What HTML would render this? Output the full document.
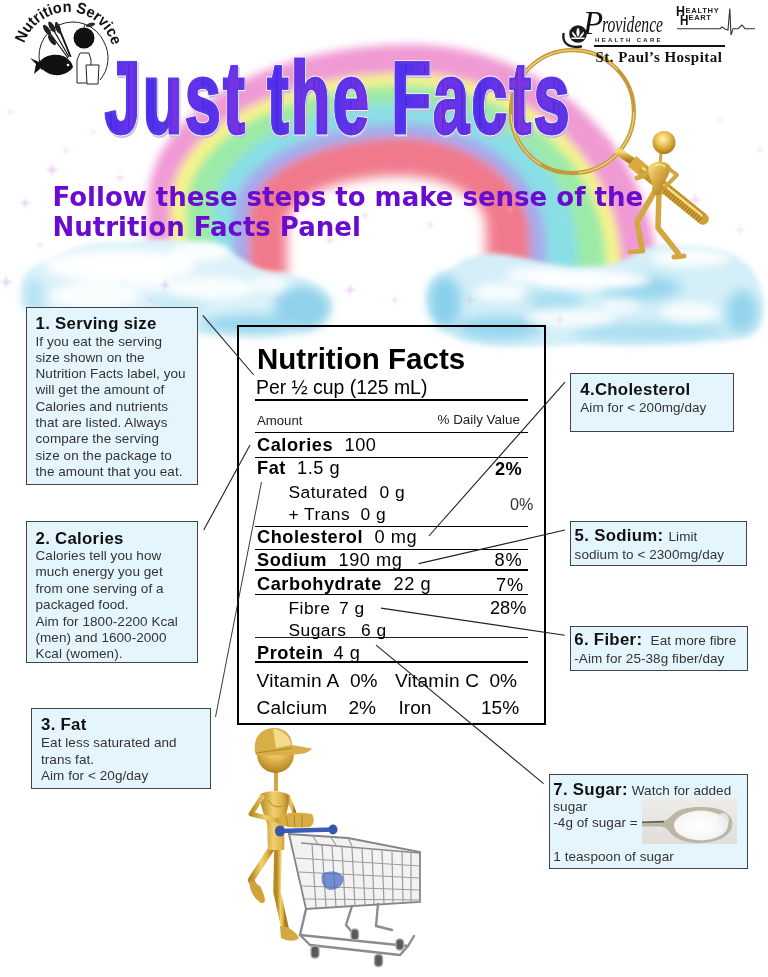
<!DOCTYPE html>
<html><head><meta charset="utf-8"><title>Just the Facts</title>
<style>
*{margin:0;padding:0;box-sizing:content-box}
html,body{width:768px;height:977px;overflow:hidden;background:#fff}
body{position:relative}
.abs{position:absolute}
.t{position:absolute;white-space:pre;line-height:1}
.box{background:#e5f5fd;border:1px solid #404448}
.title,.title-sh,.title-ol{z-index:5;left:0;top:0;font-family:'Liberation Sans',sans-serif;font-weight:bold;font-size:102px;letter-spacing:3.4px;line-height:1;white-space:pre;transform-origin:0 0;}
.title{transform:translate(104.5px,47px) scaleX(0.637);color:transparent;-webkit-background-clip:text;background-clip:text;-webkit-text-stroke:2.6px #5a36e6;
 background-image:repeating-linear-gradient(90deg,rgba(40,20,170,0) 0,rgba(40,20,170,0) 9px,rgba(40,20,170,0.45) 9px,rgba(40,20,170,0.45) 10.5px,rgba(40,20,170,0) 10.5px,rgba(40,20,170,0) 17px,rgba(60,30,200,0.3) 17px,rgba(60,30,200,0.3) 18.5px,rgba(40,20,170,0) 18.5px,rgba(40,20,170,0) 29px),linear-gradient(90deg,#4632ee 0,#6a34ea 6%,#4a30f0 10%,#7e32e4 16%,#5030ee 22%,#8034e0 30%,#4c30ee 36%,#7a34e2 44%,#5434ec 50%,#8434e0 58%,#4a32ee 64%,#7c34e4 72%,#5030ee 80%,#8236e0 88%,#5a32ea 100%);}
.title-sh{transform:translate(105.7px,48.5px) scaleX(0.637);color:#c0bcd4;-webkit-text-stroke:4px #c0bcd4;}
.title-ol{transform:translate(104.5px,47px) scaleX(0.637);color:#f4f0ff;-webkit-text-stroke:4.8px #f4f0ff;}
</style></head>
<body>

<svg class="abs" style="left:0;top:0" width="768" height="400" viewBox="0 0 768 400">
 <defs>
  <filter id="rb" x="-20%" y="-20%" width="140%" height="140%"><feGaussianBlur stdDeviation="4"/></filter>
  <filter id="rbin" x="-30%" y="-30%" width="160%" height="160%"><feGaussianBlur stdDeviation="6"/></filter>
  <filter id="rbglow" x="-20%" y="-20%" width="140%" height="140%"><feGaussianBlur stdDeviation="12"/></filter>
  <filter id="cl" x="-30%" y="-30%" width="160%" height="160%"><feGaussianBlur stdDeviation="4"/></filter>
  <filter id="cl2" x="-30%" y="-30%" width="160%" height="160%"><feGaussianBlur stdDeviation="2.5"/></filter>
  <filter id="cl3" x="-50%" y="-50%" width="200%" height="200%"><feGaussianBlur stdDeviation="6"/></filter>
  <filter id="cl4" x="-50%" y="-50%" width="200%" height="200%"><feGaussianBlur stdDeviation="4"/></filter>
  <linearGradient id="rbfade" x1="0" y1="0" x2="0" y2="1" gradientUnits="objectBoundingBox">
   <stop offset="0" stop-color="#fff"/><stop offset="0.67" stop-color="#fff"/><stop offset="0.72" stop-color="#000"/><stop offset="1" stop-color="#000"/>
  </linearGradient>
  <mask id="rbm" maskUnits="userSpaceOnUse" x="0" y="0" width="768" height="400"><rect x="0" y="0" width="768" height="400" fill="url(#rbfade)"/></mask>
 </defs>
 <g mask="url(#rbm)">
 <g filter="url(#rb)">
  <path d="M148.0,340 L148.0,201.6 A262.0,157.1 0 0 1 410.0,44.5 A247.0,233.5 0 0 1 657.0,278.0 L657.0,340 Z" fill="#f09ad4"/>
  <path d="M169.4,340 L169.4,205.2 A238.5,133.0 0 0 1 407.9,72.2 A214.2,195.1 0 0 1 622.1,267.3 L622.1,340 Z" fill="#f4cfb8"/>
  <path d="M172.2,340 L172.2,205.6 A235.5,131.3 0 0 1 407.7,74.3 A212.0,192.3 0 0 1 619.7,266.6 L619.7,340 Z" fill="#f6f488"/>
  <path d="M186.0,340 L186.0,207.9 A220.8,122.6 0 0 1 406.9,85.3 A199.3,177.1 0 0 1 606.2,262.4 L606.2,340 Z" fill="#9ceaa8"/>
  <path d="M214.0,340 L214.0,212.4 A191.4,108.9 0 0 1 405.4,103.4 A171.8,150.0 0 0 1 577.2,253.4 L577.2,340 Z" fill="#8adee6"/>
  <path d="M232.7,340 L232.7,215.4 A171.2,91.9 0 0 1 403.9,123.5 A142.1,120.2 0 0 1 546.0,243.7 L546.0,340 Z" fill="#a6aaec"/>
  <path d="M249.0,340 L249.0,218.1 A153.8,80.3 0 0 1 402.8,137.7 A127.0,101.0 0 0 1 529.8,238.7 L529.8,340 Z" fill="#f07a8c"/>
 </g>
 <g filter="url(#rbin)">
  <path d="M287.0,340 L287.0,224.0 A113.0,48.0 0 0 1 400.0,176.0 A86.0,50.0 0 0 1 486.0,226.0 L486.0,340 Z" fill="#ffffff"/>
 </g>
 </g>
 <g filter="url(#cl2)">
  <path fill="#dcf2f9" d="M22,290 C20,276 28,266 44,262 C56,258 64,250 80,247 C94,242 112,242 126,243 C146,238 170,238 190,242 C208,240 222,244 232,252 C244,262 258,270 276,273 C300,274 320,284 330,298 C334,312 326,326 306,332 C280,338 250,336 220,334 C180,336 120,336 80,332 C50,330 28,318 22,302 Z"/>
  <path fill="#d4eff8" d="M427,300 C424,284 436,272 452,268 C462,258 482,252 500,254 C520,256 536,262 560,266 C590,270 616,266 634,254 C650,244 668,243 680,246 C712,244 742,254 752,270 C764,286 766,308 760,324 C754,338 734,342 710,340 C670,346 620,346 580,344 C540,348 500,348 470,342 C444,338 429,318 427,300 Z"/>
 </g>
 <g filter="url(#cl3)">
  <ellipse cx="302" cy="308" rx="28" ry="22" fill="#8fd2ea"/>
  <ellipse cx="250" cy="324" rx="50" ry="10" fill="#9ad6ee"/>
  <ellipse cx="34" cy="296" rx="10" ry="18" fill="#b4e2f2"/>
  <ellipse cx="110" cy="324" rx="60" ry="8" fill="#bde6f4"/>
  <ellipse cx="180" cy="304" rx="30" ry="9" fill="#c6eaf6"/>
  <ellipse cx="445" cy="302" rx="16" ry="26" fill="#88d0ea"/>
  <ellipse cx="500" cy="328" rx="44" ry="12" fill="#96d6ee"/>
  <ellipse cx="640" cy="288" rx="42" ry="12" fill="#96d6ee"/>
  <ellipse cx="742" cy="312" rx="16" ry="22" fill="#94d4ec"/>
  <ellipse cx="650" cy="332" rx="80" ry="8" fill="#a4dcf0"/>
  <ellipse cx="555" cy="300" rx="28" ry="12" fill="#acdff2"/>
 </g>
 <g filter="url(#cl4)" fill="#ffffff">
  <ellipse cx="120" cy="266" rx="75" ry="16" opacity="0.95"/>
  <ellipse cx="200" cy="252" rx="30" ry="9" opacity="0.9"/>
  <ellipse cx="210" cy="288" rx="45" ry="11" opacity="0.85"/>
  <ellipse cx="95" cy="296" rx="45" ry="14" opacity="0.85"/>
  <ellipse cx="150" cy="282" rx="20" ry="8" opacity="0.8"/>
  <ellipse cx="270" cy="284" rx="18" ry="8" opacity="0.7"/>
  <ellipse cx="590" cy="280" rx="60" ry="10" opacity="0.95"/>
  <ellipse cx="690" cy="258" rx="40" ry="9" opacity="0.9"/>
  <ellipse cx="540" cy="275" rx="35" ry="8" opacity="0.85"/>
  <ellipse cx="570" cy="318" rx="45" ry="9" opacity="0.8"/>
  <ellipse cx="690" cy="312" rx="30" ry="10" opacity="0.8"/>
  <ellipse cx="500" cy="292" rx="26" ry="9" opacity="0.8"/>
  <ellipse cx="620" cy="306" rx="20" ry="7" opacity="0.7"/>
 </g>
</svg>
<svg class="abs" style="left:0;top:0" width="768" height="340" viewBox="0 0 768 340"><defs><filter id="spb"><feGaussianBlur stdDeviation="0.8"/></filter></defs><g filter="url(#spb)"><path d="M52,163 L53.54,168.46 L59,170 L53.54,171.54 L52,177 L50.46,171.54 L45,170 L50.46,168.46 Z" fill="#e0a8e0" opacity="0.55"/><path d="M25,197 L26.32,201.68 L31,203 L26.32,204.32 L25,209 L23.68,204.32 L19,203 L23.68,201.68 Z" fill="#c8b0ec" opacity="0.5"/><path d="M6,275 L7.54,280.46 L13,282 L7.54,283.54 L6,289 L4.46,283.54 L-1,282 L4.46,280.46 Z" fill="#c8b0ec" opacity="0.5"/><path d="M66,146 L67.1,149.9 L71,151 L67.1,152.1 L66,156 L64.9,152.1 L61,151 L64.9,149.9 Z" fill="#e8b8e8" opacity="0.4"/><path d="M93,128 L93.88,131.12 L97,132 L93.88,132.88 L93,136 L92.12,132.88 L89,132 L92.12,131.12 Z" fill="#d8c0f0" opacity="0.4"/><path d="M10,107 L11.1,110.9 L15,112 L11.1,113.1 L10,117 L8.9,113.1 L5,112 L8.9,110.9 Z" fill="#e0c0ec" opacity="0.35"/><path d="M120,173 L121.1,176.9 L125,178 L121.1,179.1 L120,183 L118.9,179.1 L115,178 L118.9,176.9 Z" fill="#e8b0e0" opacity="0.45"/><path d="M165,279 L166.32,283.68 L171,285 L166.32,286.32 L165,291 L163.68,286.32 L159,285 L163.68,283.68 Z" fill="#d0b0ec" opacity="0.5"/><path d="M305,189 L306.32,193.68 L311,195 L306.32,196.32 L305,201 L303.68,196.32 L299,195 L303.68,193.68 Z" fill="#e6b0e6" opacity="0.5"/><path d="M350,283 L351.54,288.46 L357,290 L351.54,291.54 L350,297 L348.46,291.54 L343,290 L348.46,288.46 Z" fill="#d8b0ee" opacity="0.45"/><path d="M330,234 L331.32,238.68 L336,240 L331.32,241.32 L330,246 L328.68,241.32 L324,240 L328.68,238.68 Z" fill="#e4b4e8" opacity="0.45"/><path d="M430,220 L431.1,223.9 L435,225 L431.1,226.1 L430,230 L428.9,226.1 L425,225 L428.9,223.9 Z" fill="#e0b0e8" opacity="0.4"/><path d="M470,294 L471.32,298.68 L476,300 L471.32,301.32 L470,306 L468.68,301.32 L464,300 L468.68,298.68 Z" fill="#d8b0ee" opacity="0.45"/><path d="M510,205 L511.1,208.9 L515,210 L511.1,211.1 L510,215 L508.9,211.1 L505,210 L508.9,208.9 Z" fill="#e8b8e8" opacity="0.4"/><path d="M605,135 L606.76,141.24 L613,143 L606.76,144.76 L605,151 L603.24,144.76 L597,143 L603.24,141.24 Z" fill="#f0a0d0" opacity="0.55"/><path d="M695,193 L696.54,198.46 L702,200 L696.54,201.54 L695,207 L693.46,201.54 L688,200 L693.46,198.46 Z" fill="#f0b0d8" opacity="0.45"/><path d="M740,224 L741.32,228.68 L746,230 L741.32,231.32 L740,236 L738.68,231.32 L734,230 L738.68,228.68 Z" fill="#e0c0ee" opacity="0.4"/><path d="M760,145 L761.1,148.9 L765,150 L761.1,151.1 L760,155 L758.9,151.1 L755,150 L758.9,148.9 Z" fill="#e0c0ee" opacity="0.35"/><path d="M720,115 L721.1,118.9 L725,120 L721.1,121.1 L720,125 L718.9,121.1 L715,120 L718.9,118.9 Z" fill="#e8c0e8" opacity="0.35"/><path d="M40,240 L41.1,243.9 L45,245 L41.1,246.1 L40,250 L38.9,246.1 L35,245 L38.9,243.9 Z" fill="#d8b8ee" opacity="0.4"/><path d="M395,295 L396.1,298.9 L400,300 L396.1,301.1 L395,305 L393.9,301.1 L390,300 L393.9,298.9 Z" fill="#e0b0e8" opacity="0.4"/><path d="M280,295 L281.1,298.9 L285,300 L281.1,301.1 L280,305 L278.9,301.1 L275,300 L278.9,298.9 Z" fill="#e0b0e8" opacity="0.4"/><path d="M150,296 L150.88,299.12 L154,300 L150.88,300.88 L150,304 L149.12,300.88 L146,300 L149.12,299.12 Z" fill="#d8b8ee" opacity="0.4"/><path d="M560,315 L561.1,318.9 L565,320 L561.1,321.1 L560,325 L558.9,321.1 L555,320 L558.9,318.9 Z" fill="#e0b0e8" opacity="0.4"/><path d="M365,210 L366.1,213.9 L370,215 L366.1,216.1 L365,220 L363.9,216.1 L360,215 L363.9,213.9 Z" fill="#e8b0e0" opacity="0.45"/></g></svg>
<div class="abs title-sh">Just the Facts</div><div class="abs title-ol">Just the Facts</div><div class="abs title">Just the Facts</div>
<div class="t" style="left:52.5px;top:184.0px;font-size:26px;font-weight:bold;color:#6a0cd0;letter-spacing:0px;font-family:'DejaVu Sans', sans-serif;">Follow these steps to make sense of the</div>
<div class="t" style="left:52.5px;top:214.0px;font-size:26px;font-weight:bold;color:#6a0cd0;letter-spacing:0px;font-family:'DejaVu Sans', sans-serif;">Nutrition Facts Panel</div>
<div class="abs" style="left:237px;top:325px;width:305px;height:396px;border:2px solid #000"></div>
<div class="abs" style="left:255px;top:398.5px;width:273px;height:2.2px;background:#000"></div>
<div class="abs" style="left:255px;top:431.5px;width:273px;height:1.3px;background:#000"></div>
<div class="abs" style="left:255px;top:456.5px;width:273px;height:1.3px;background:#000"></div>
<div class="abs" style="left:255px;top:526px;width:273px;height:1.3px;background:#000"></div>
<div class="abs" style="left:255px;top:549px;width:273px;height:1.3px;background:#000"></div>
<div class="abs" style="left:255px;top:569.3px;width:273px;height:1.3px;background:#000"></div>
<div class="abs" style="left:255px;top:593.5px;width:273px;height:1.3px;background:#000"></div>
<div class="abs" style="left:255px;top:637.2px;width:273px;height:1.3px;background:#222"></div>
<div class="abs" style="left:255px;top:660.5px;width:273px;height:2.4px;background:#000"></div>
<div class="t" style="left:257.0px;top:344.0px;font-size:29.5px;font-weight:bold;color:#000;letter-spacing:0px;font-family:'Liberation Sans', sans-serif;">Nutrition Facts</div>
<div class="t" style="left:256.0px;top:378.0px;font-size:19.4px;font-weight:normal;color:#000;letter-spacing:0px;font-family:'Liberation Sans', sans-serif;">Per ½ cup (125 mL)</div>
<div class="t" style="left:257.0px;top:414.0px;font-size:13.2px;font-weight:normal;color:#222;letter-spacing:0px;font-family:'Liberation Sans', sans-serif;">Amount</div>
<div class="t" style="left:437.5px;top:413.0px;font-size:13.4px;font-weight:normal;color:#222;letter-spacing:0px;font-family:'Liberation Sans', sans-serif;">% Daily Value</div>
<div class="t" style="left:257.0px;top:436.0px;font-size:18.2px;font-weight:bold;color:#000;letter-spacing:0.55px;font-family:'Liberation Sans', sans-serif;">Calories</div>
<div class="t" style="left:344.5px;top:436.0px;font-size:18.2px;font-weight:normal;color:#000;letter-spacing:0.55px;font-family:'Liberation Sans', sans-serif;">100</div>
<div class="t" style="left:257.0px;top:459.0px;font-size:18.2px;font-weight:bold;color:#000;letter-spacing:0.55px;font-family:'Liberation Sans', sans-serif;">Fat</div>
<div class="t" style="left:297.0px;top:459.0px;font-size:18.2px;font-weight:normal;color:#000;letter-spacing:0.55px;font-family:'Liberation Sans', sans-serif;">1.5 g</div>
<div class="t" style="left:495.0px;top:460.0px;font-size:18.2px;font-weight:bold;color:#000;letter-spacing:0.5px;font-family:'Liberation Sans', sans-serif;">2%</div>
<div class="t" style="left:288.5px;top:484.0px;font-size:17.4px;font-weight:normal;color:#000;letter-spacing:0.45px;font-family:'Liberation Sans', sans-serif;">Saturated</div>
<div class="t" style="left:379.5px;top:484.0px;font-size:17.4px;font-weight:normal;color:#000;letter-spacing:0.45px;font-family:'Liberation Sans', sans-serif;">0 g</div>
<div class="t" style="left:288.5px;top:506.0px;font-size:17.4px;font-weight:normal;color:#000;letter-spacing:0.45px;font-family:'Liberation Sans', sans-serif;">+ Trans</div>
<div class="t" style="left:360.5px;top:506.0px;font-size:17.4px;font-weight:normal;color:#000;letter-spacing:0.45px;font-family:'Liberation Sans', sans-serif;">0 g</div>
<div class="t" style="left:510.0px;top:496.0px;font-size:16.2px;font-weight:normal;color:#333;letter-spacing:0px;font-family:'Liberation Sans', sans-serif;">0%</div>
<div class="t" style="left:257.0px;top:528.0px;font-size:18.2px;font-weight:bold;color:#000;letter-spacing:0.55px;font-family:'Liberation Sans', sans-serif;">Cholesterol</div>
<div class="t" style="left:374.5px;top:528.0px;font-size:18.2px;font-weight:normal;color:#000;letter-spacing:0.55px;font-family:'Liberation Sans', sans-serif;">0 mg</div>
<div class="t" style="left:257.0px;top:551.0px;font-size:18.2px;font-weight:bold;color:#000;letter-spacing:0.55px;font-family:'Liberation Sans', sans-serif;">Sodium</div>
<div class="t" style="left:338.5px;top:551.0px;font-size:18.2px;font-weight:normal;color:#000;letter-spacing:0.55px;font-family:'Liberation Sans', sans-serif;">190 mg</div>
<div class="t" style="left:494.5px;top:551.0px;font-size:18.2px;font-weight:normal;color:#000;letter-spacing:0.8px;font-family:'Liberation Sans', sans-serif;">8%</div>
<div class="t" style="left:257.0px;top:575.0px;font-size:18.2px;font-weight:bold;color:#000;letter-spacing:0.55px;font-family:'Liberation Sans', sans-serif;">Carbohydrate</div>
<div class="t" style="left:393.5px;top:575.0px;font-size:18.2px;font-weight:normal;color:#000;letter-spacing:0.55px;font-family:'Liberation Sans', sans-serif;">22 g</div>
<div class="t" style="left:496.0px;top:576.0px;font-size:18.2px;font-weight:normal;color:#000;letter-spacing:0.8px;font-family:'Liberation Sans', sans-serif;">7%</div>
<div class="t" style="left:288.5px;top:600.0px;font-size:17.4px;font-weight:normal;color:#000;letter-spacing:0.45px;font-family:'Liberation Sans', sans-serif;">Fibre</div>
<div class="t" style="left:339.0px;top:600.0px;font-size:17.4px;font-weight:normal;color:#000;letter-spacing:0.45px;font-family:'Liberation Sans', sans-serif;">7 g</div>
<div class="t" style="left:490.0px;top:599.0px;font-size:18.2px;font-weight:normal;color:#000;letter-spacing:0px;font-family:'Liberation Sans', sans-serif;">28%</div>
<div class="t" style="left:288.5px;top:622.0px;font-size:17.4px;font-weight:normal;color:#000;letter-spacing:0.45px;font-family:'Liberation Sans', sans-serif;">Sugars</div>
<div class="t" style="left:361.0px;top:622.0px;font-size:17.4px;font-weight:normal;color:#000;letter-spacing:0.45px;font-family:'Liberation Sans', sans-serif;">6 g</div>
<div class="t" style="left:257.0px;top:644.0px;font-size:18.2px;font-weight:bold;color:#000;letter-spacing:0.55px;font-family:'Liberation Sans', sans-serif;">Protein</div>
<div class="t" style="left:333.5px;top:644.0px;font-size:18.2px;font-weight:normal;color:#000;letter-spacing:0.55px;font-family:'Liberation Sans', sans-serif;">4 g</div>
<div class="t" style="left:256.5px;top:671.0px;font-size:19.1px;font-weight:normal;color:#000;letter-spacing:0.3px;font-family:'Liberation Sans', sans-serif;">Vitamin A</div>
<div class="t" style="left:350.0px;top:671.0px;font-size:19.1px;font-weight:normal;color:#000;letter-spacing:0px;font-family:'Liberation Sans', sans-serif;">0%</div>
<div class="t" style="left:395.0px;top:671.0px;font-size:19.1px;font-weight:normal;color:#000;letter-spacing:0.2px;font-family:'Liberation Sans', sans-serif;">Vitamin C</div>
<div class="t" style="left:489.5px;top:671.0px;font-size:19.1px;font-weight:normal;color:#000;letter-spacing:0px;font-family:'Liberation Sans', sans-serif;">0%</div>
<div class="t" style="left:256.5px;top:698.0px;font-size:19.1px;font-weight:normal;color:#000;letter-spacing:0.3px;font-family:'Liberation Sans', sans-serif;">Calcium</div>
<div class="t" style="left:348.5px;top:698.0px;font-size:19.1px;font-weight:normal;color:#000;letter-spacing:0px;font-family:'Liberation Sans', sans-serif;">2%</div>
<div class="t" style="left:398.5px;top:698.0px;font-size:19.1px;font-weight:normal;color:#000;letter-spacing:0px;font-family:'Liberation Sans', sans-serif;">Iron</div>
<div class="t" style="left:481.0px;top:698.0px;font-size:19.1px;font-weight:normal;color:#000;letter-spacing:0px;font-family:'Liberation Sans', sans-serif;">15%</div>
<div class="abs box" style="left:26px;top:307px;width:170px;height:176px"></div>
<div class="t" style="left:35.5px;top:316.0px;font-size:16.8px;font-weight:bold;color:#111;letter-spacing:0.3px;font-family:'Liberation Sans', sans-serif;">1. Serving size</div>
<div class="t" style="left:35.5px;top:335.0px;font-size:13.5px;font-weight:normal;color:#333;letter-spacing:0.06px;font-family:'Liberation Sans', sans-serif;">If you eat the serving</div>
<div class="t" style="left:35.5px;top:351.0px;font-size:13.5px;font-weight:normal;color:#333;letter-spacing:0.06px;font-family:'Liberation Sans', sans-serif;">size shown on the</div>
<div class="t" style="left:35.5px;top:367.0px;font-size:13.5px;font-weight:normal;color:#333;letter-spacing:0.06px;font-family:'Liberation Sans', sans-serif;">Nutrition Facts label, you</div>
<div class="t" style="left:35.5px;top:383.0px;font-size:13.5px;font-weight:normal;color:#333;letter-spacing:0.06px;font-family:'Liberation Sans', sans-serif;">will get the amount of</div>
<div class="t" style="left:35.5px;top:400.0px;font-size:13.5px;font-weight:normal;color:#333;letter-spacing:0.06px;font-family:'Liberation Sans', sans-serif;">Calories and nutrients</div>
<div class="t" style="left:35.5px;top:416.0px;font-size:13.5px;font-weight:normal;color:#333;letter-spacing:0.06px;font-family:'Liberation Sans', sans-serif;">that are listed. Always</div>
<div class="t" style="left:35.5px;top:432.0px;font-size:13.5px;font-weight:normal;color:#333;letter-spacing:0.06px;font-family:'Liberation Sans', sans-serif;">compare the serving</div>
<div class="t" style="left:35.5px;top:449.0px;font-size:13.5px;font-weight:normal;color:#333;letter-spacing:0.06px;font-family:'Liberation Sans', sans-serif;">size on the package to</div>
<div class="t" style="left:35.5px;top:465.0px;font-size:13.5px;font-weight:normal;color:#333;letter-spacing:0.06px;font-family:'Liberation Sans', sans-serif;">the amount that you eat.</div>
<div class="abs box" style="left:26px;top:521px;width:170px;height:140px"></div>
<div class="t" style="left:35.5px;top:531.0px;font-size:16.8px;font-weight:bold;color:#111;letter-spacing:0.3px;font-family:'Liberation Sans', sans-serif;">2. Calories</div>
<div class="t" style="left:35.5px;top:549.0px;font-size:13.5px;font-weight:normal;color:#333;letter-spacing:0.06px;font-family:'Liberation Sans', sans-serif;">Calories tell you how</div>
<div class="t" style="left:35.5px;top:565.0px;font-size:13.5px;font-weight:normal;color:#333;letter-spacing:0.06px;font-family:'Liberation Sans', sans-serif;">much energy you get</div>
<div class="t" style="left:35.5px;top:582.0px;font-size:13.5px;font-weight:normal;color:#333;letter-spacing:0.06px;font-family:'Liberation Sans', sans-serif;">from one serving of a</div>
<div class="t" style="left:35.5px;top:598.0px;font-size:13.5px;font-weight:normal;color:#333;letter-spacing:0.06px;font-family:'Liberation Sans', sans-serif;">packaged food.</div>
<div class="t" style="left:35.5px;top:615.0px;font-size:13.5px;font-weight:normal;color:#333;letter-spacing:0.06px;font-family:'Liberation Sans', sans-serif;">Aim for 1800-2200 Kcal</div>
<div class="t" style="left:35.5px;top:631.0px;font-size:13.5px;font-weight:normal;color:#333;letter-spacing:0.06px;font-family:'Liberation Sans', sans-serif;">(men) and 1600-2000</div>
<div class="t" style="left:35.5px;top:647.0px;font-size:13.5px;font-weight:normal;color:#333;letter-spacing:0.06px;font-family:'Liberation Sans', sans-serif;">Kcal (women).</div>
<div class="abs box" style="left:31px;top:708px;width:178px;height:79px"></div>
<div class="t" style="left:41.0px;top:717.0px;font-size:16.8px;font-weight:bold;color:#111;letter-spacing:0.3px;font-family:'Liberation Sans', sans-serif;">3. Fat</div>
<div class="t" style="left:41.0px;top:736.0px;font-size:13.5px;font-weight:normal;color:#333;letter-spacing:0.06px;font-family:'Liberation Sans', sans-serif;">Eat less saturated and</div>
<div class="t" style="left:41.0px;top:753.0px;font-size:13.5px;font-weight:normal;color:#333;letter-spacing:0.06px;font-family:'Liberation Sans', sans-serif;">trans fat.</div>
<div class="t" style="left:41.0px;top:769.0px;font-size:13.5px;font-weight:normal;color:#333;letter-spacing:0.06px;font-family:'Liberation Sans', sans-serif;">Aim for < 20g/day</div>
<div class="abs box" style="left:570px;top:373px;width:162px;height:57px"></div>
<div class="t" style="left:580.3px;top:382.0px;font-size:16.8px;font-weight:bold;color:#111;letter-spacing:0.3px;font-family:'Liberation Sans', sans-serif;">4.Cholesterol</div>
<div class="t" style="left:580.3px;top:401.0px;font-size:13.5px;font-weight:normal;color:#333;letter-spacing:0.06px;font-family:'Liberation Sans', sans-serif;">Aim for < 200mg/day</div>
<div class="abs box" style="left:570px;top:521px;width:175px;height:43px"></div>
<div class="t" style="left:574.6px;top:528.0px;font-size:16.8px;font-weight:bold;color:#111;letter-spacing:0.3px;font-family:'Liberation Sans', sans-serif;">5. Sodium:</div>
<div class="t" style="left:668.5px;top:530.0px;font-size:13.5px;font-weight:normal;color:#333;letter-spacing:0.06px;font-family:'Liberation Sans', sans-serif;">Limit</div>
<div class="t" style="left:574.6px;top:548.0px;font-size:13.5px;font-weight:normal;color:#333;letter-spacing:0.06px;font-family:'Liberation Sans', sans-serif;">sodium to < 2300mg/day</div>
<div class="abs box" style="left:570px;top:626px;width:176px;height:43px"></div>
<div class="t" style="left:574.3px;top:632.0px;font-size:16.8px;font-weight:bold;color:#111;letter-spacing:0.3px;font-family:'Liberation Sans', sans-serif;">6. Fiber:</div>
<div class="t" style="left:650.6px;top:634.0px;font-size:13.5px;font-weight:normal;color:#333;letter-spacing:0.06px;font-family:'Liberation Sans', sans-serif;">Eat more fibre</div>
<div class="t" style="left:574.3px;top:652.0px;font-size:13.5px;font-weight:normal;color:#333;letter-spacing:0.06px;font-family:'Liberation Sans', sans-serif;">-Aim for 25-38g fiber/day</div>
<div class="abs box" style="left:549px;top:774px;width:197px;height:93px"></div>
<div class="t" style="left:553.3px;top:782.0px;font-size:16.8px;font-weight:bold;color:#111;letter-spacing:0.3px;font-family:'Liberation Sans', sans-serif;">7. Sugar:</div>
<div class="t" style="left:631.8px;top:784.0px;font-size:13.5px;font-weight:normal;color:#333;letter-spacing:0.06px;font-family:'Liberation Sans', sans-serif;">Watch for added</div>
<div class="t" style="left:553.3px;top:800.0px;font-size:13.5px;font-weight:normal;color:#333;letter-spacing:0.06px;font-family:'Liberation Sans', sans-serif;">sugar</div>
<div class="t" style="left:553.3px;top:816.0px;font-size:13.5px;font-weight:normal;color:#333;letter-spacing:0.06px;font-family:'Liberation Sans', sans-serif;">-4g of sugar =</div>
<div class="t" style="left:553.3px;top:850.0px;font-size:13.5px;font-weight:normal;color:#333;letter-spacing:0.06px;font-family:'Liberation Sans', sans-serif;">1 teaspoon of sugar</div>
<svg class="abs" style="left:0;top:0" width="768" height="977" viewBox="0 0 768 977">
 <g stroke="#222" stroke-width="1.1" fill="none">
  <line x1="202.7" y1="315.4" x2="253.8" y2="375"/>
  <line x1="203.7" y1="530.1" x2="250" y2="445.1"/>
  <line x1="261.5" y1="482" x2="215.5" y2="717" stroke-width="0.9"/>
  <line x1="565" y1="382.2" x2="428.9" y2="536"/>
  <line x1="418.7" y1="563.6" x2="565" y2="530"/>
  <line x1="381" y1="608.1" x2="564.7" y2="635.2"/>
  <line x1="376.1" y1="645.1" x2="543.6" y2="783.6"/>
 </g>
</svg>
<svg class="abs" style="left:0;top:0" width="768" height="300" viewBox="0 0 768 300">
 <defs>
  <linearGradient id="gold" x1="0" y1="0" x2="1" y2="1">
   <stop offset="0" stop-color="#fbe9a0"/><stop offset="0.35" stop-color="#e0b850"/><stop offset="0.7" stop-color="#c0902c"/><stop offset="1" stop-color="#e8c868"/>
  </linearGradient>
  <linearGradient id="goldh" x1="0" y1="0" x2="0" y2="1">
   <stop offset="0" stop-color="#f4d878"/><stop offset="0.5" stop-color="#d0a238"/><stop offset="1" stop-color="#a87a20"/>
  </linearGradient>
  <radialGradient id="goldball" cx="0.45" cy="0.35" r="0.7">
   <stop offset="0" stop-color="#fff4c0"/><stop offset="0.35" stop-color="#f0cc60"/><stop offset="0.8" stop-color="#c08a22"/><stop offset="1" stop-color="#a87418"/>
  </radialGradient>
</defs>
 <circle cx="572.4" cy="111.6" r="61.5" fill="none" stroke="#c69a3a" stroke-width="4.2"/>
 <circle cx="572.4" cy="111.6" r="61.5" fill="none" stroke="#f0d27a" stroke-width="1.3" stroke-dasharray="90 40 60 30 120 50" />
 <!-- handle -->
 <line x1="619" y1="152" x2="632" y2="161" stroke="url(#goldh)" stroke-width="8" stroke-linecap="round"/>
 <line x1="632" y1="161" x2="645" y2="172" stroke="#d8aa40" stroke-width="13" stroke-linecap="butt"/>
 <line x1="645" y1="172" x2="703" y2="219" stroke="#cf9f36" stroke-width="11.5" stroke-linecap="round"/>
 <line x1="645" y1="172" x2="703" y2="219" stroke="#a87a22" stroke-width="11" stroke-dasharray="1.2 1.8" />
 <line x1="643" y1="168" x2="702" y2="215.5" stroke="#f6dc84" stroke-width="2.5" stroke-linecap="round"/>
 <!-- legs -->
 <g fill="none" stroke="#d2a640" stroke-linecap="round" stroke-linejoin="round">
  <path d="M655,191 L637,222 L642,249" stroke-width="5.5"/>
  <path d="M659,191 L658,228 L678,253" stroke-width="5.5"/>
  <path d="M630,252 L643,251" stroke-width="4.5"/>
  <path d="M674,257 L684,256" stroke-width="5"/>
  <path d="M652,168 L643,176 L637,178" stroke-width="5"/>
  <path d="M667,167 L677,175 L666,186" stroke-width="4"/>
  <path d="M661,153 L660,166" stroke-width="3"/>
 </g>
 <path d="M649,166 C654,160 666,160 670,166 C671,174 665,180 663,186 C664,190 664,193 662,195 L653,195 C651,191 652,188 653,185 C650,178 647,172 649,166 Z" fill="url(#gold)"/>
 <path d="M655,166 C658,164 663,164 665,167" stroke="#fbeaa8" stroke-width="1.5" fill="none"/>
 <circle cx="664" cy="142.5" r="11.5" fill="url(#goldball)"/>
</svg>
<svg class="abs" style="left:0;top:700px" width="768" height="277" viewBox="0 700 768 277">
 <defs>
  <linearGradient id="gold" x1="0" y1="0" x2="1" y2="1">
   <stop offset="0" stop-color="#fbe9a0"/><stop offset="0.35" stop-color="#e0b850"/><stop offset="0.7" stop-color="#c0902c"/><stop offset="1" stop-color="#e8c868"/>
  </linearGradient>
  <linearGradient id="goldh" x1="0" y1="0" x2="0" y2="1">
   <stop offset="0" stop-color="#f4d878"/><stop offset="0.5" stop-color="#d0a238"/><stop offset="1" stop-color="#a87a20"/>
  </linearGradient>
  <radialGradient id="goldball" cx="0.45" cy="0.35" r="0.7">
   <stop offset="0" stop-color="#fff4c0"/><stop offset="0.35" stop-color="#f0cc60"/><stop offset="0.8" stop-color="#c08a22"/><stop offset="1" stop-color="#a87418"/>
  </radialGradient>

  <linearGradient id="goldv" x1="0" y1="0" x2="1" y2="0">
   <stop offset="0" stop-color="#b8891e"/><stop offset="0.45" stop-color="#f0d070"/><stop offset="0.7" stop-color="#e2b850"/><stop offset="1" stop-color="#a87a1a"/>
  </linearGradient>
  <radialGradient id="face" cx="0.5" cy="0.3" r="0.75">
   <stop offset="0" stop-color="#fff0a8"/><stop offset="0.45" stop-color="#e6bc50"/><stop offset="1" stop-color="#a8781c"/>
  </radialGradient>
 </defs>
 <!-- cart basket -->
 <path d="M289,834 L348,838 L420,852 L420,902 L306,909 Z" fill="#ececee" fill-opacity="0.7"/>
 <g stroke="#9c9ca0" stroke-width="1.2" fill="none">
  <path d="M289,834 L348,838 L420,852 L420,902 L306,909 Z" stroke="#858588" stroke-width="1.8"/>
  <path d="M301,843 L420,853" stroke="#8a8a8c" stroke-width="1.6"/>
  <path d="M296,858 L420,866 M299,872 L420,878 M302,886 L420,890 M304,899 L420,900"/>
  <path d="M312,844 L316,908 M322,845 L326,907 M332,846 L336,907 M342,847 L345,906 M352,848 L355,906 M362,849 L365,905 M372,850 L374,904 M382,851 L384,904 M392,852 L393,903 M402,852 L403,903 M411,853 L411,902"/>
  <path d="M348,838 L352,846 M330,836 L336,845 M312,835 L318,844" />
 </g>
 <path d="M322,874 C328,870 340,871 343,877 C345,884 338,890 330,890 C324,889 320,882 322,874 Z" fill="#4a6cc4" fill-opacity="0.75"/>
 <!-- undercarriage -->
 <g stroke="#8c8c90" stroke-width="2.4" fill="none" stroke-linecap="round" stroke-linejoin="round">
  <path d="M306,909 L300,935 L408,946 L414,936"/>
  <path d="M300,935 L310,945 L400,955 L408,946"/>
  <path d="M352,906 L346,925 L352,932"/>
  <path d="M378,904 L376,926 L392,930"/>
 </g>
 <g fill="#5a5a5c" stroke="#a8a8aa" stroke-width="1.4">
  <rect x="311" y="946" width="8" height="12" rx="3.5"/>
  <rect x="374.5" y="954.5" width="8" height="12" rx="3.5"/>
  <rect x="351" y="929" width="7.5" height="11" rx="3.5"/>
  <rect x="396" y="939" width="7.5" height="11" rx="3.5"/>
 </g>
 <!-- figure legs (behind handle) -->
 <g fill="none" stroke="url(#goldv)" stroke-linecap="round" stroke-linejoin="round">
  <path d="M273,846 L251,880 L262,900" stroke-width="6.5"/>
  <path d="M278,846 L277,892 L285,928" stroke-width="7.5"/>
 </g>
 <path d="M280,926 C286,925 296,931 299,938 C296,942 286,941 281,938 Z" fill="#d4a840"/>
 <path d="M250,880 C248,888 254,900 262,903 C266,902 265,895 260,886 Z" fill="#d0a23a"/>
 <!-- torso -->
 <path d="M260,795 C265,790 284,790 290,796 C289,806 285,816 284,826 C284,834 285,842 284,850 L268,850 C267,840 268,832 267,824 C264,814 260,806 260,795 Z" fill="url(#goldv)"/>
 <path d="M268,800 C272,806 276,808 282,806" stroke="#a87a1e" stroke-width="0.8" fill="none"/>
 <!-- arms -->
 <g fill="none" stroke="url(#goldv)" stroke-linecap="round" stroke-linejoin="round">
  <path d="M262,797 L251,814 L283,822" stroke-width="4.8"/>
  <path d="M288,797 L294,812" stroke-width="4.5"/>
 </g>
 <!-- hands -->
 <path d="M279,817 C284,812 300,812 312,814 C315,818 314,825 310,827 C298,828 286,828 279,824 Z" fill="#d8ae44"/>
 <path d="M286,816 L288,826 M294,815 L295,827 M302,815 L302,827" stroke="#a47a1e" stroke-width="0.8"/>
 <!-- handle -->
 <line x1="279" y1="831" x2="334" y2="829.5" stroke="#3a5cb4" stroke-width="4.5" stroke-linecap="round"/>
 <ellipse cx="280" cy="831" rx="5" ry="5.5" fill="#3556aa"/><ellipse cx="333" cy="829.5" rx="4.5" ry="5" fill="#3556aa"/>
 <!-- neck + head -->
 <path d="M276,770 L276,791" stroke="#d2a640" stroke-width="4"/>
 <ellipse cx="275.5" cy="754" rx="18.5" ry="19" fill="url(#face)"/>
 <path d="M255,752 C253,736 262,728 274,728 C286,728 292,736 292,745 L312,748.5 C308,754 300,756 256,755 Z" fill="#d8ae48"/>
 <path d="M273,729 C282,729 290,736 291,745 L276,748 Z" fill="#f4dc8c"/>
 <path d="M256,753 L292,748" stroke="#b08424" stroke-width="1.2"/>
</svg>
<svg class="abs" style="left:642px;top:797px" width="95" height="47" viewBox="642 797 95 47">
 <defs><linearGradient id="bg7" x1="0" y1="0" x2="0" y2="1"><stop offset="0" stop-color="#eeedeb"/><stop offset="1" stop-color="#e0dedb"/></linearGradient>
 <radialGradient id="sug" cx="0.45" cy="0.5" r="0.6"><stop offset="0" stop-color="#ffffff"/><stop offset="0.75" stop-color="#f6f6f4"/><stop offset="1" stop-color="#e4e2dc"/></radialGradient>
 <filter id="sb"><feGaussianBlur stdDeviation="0.6"/></filter></defs>
 <rect x="642" y="797" width="95" height="47" fill="url(#bg7)"/>
 <g filter="url(#sb)">
 <path d="M642,822 L662,821.5 C668,821 670,816 676,812 C684,807 700,806 714,808 C728,811 734,818 732,827 C729,838 714,843 698,843 C684,843 673,838 668,830 C665,827 662,826.5 656,826.5 L642,826.5 Z" fill="#bdb6a6"/>
 <path d="M642,822.3 L664,821.6" stroke="#5e5a52" stroke-width="1.6"/>
 <ellipse cx="701" cy="825.5" rx="27" ry="15" fill="url(#sug)"/>
 <ellipse cx="723" cy="820" rx="6" ry="7" fill="#eef0f2" opacity="0.8"/>
 </g>
</svg>
<svg class="abs" style="left:0;top:0" width="140" height="95" viewBox="0 0 140 95">
 <defs><path id="arcNS" d="M24.35,43.5 A46,46 0 0 1 112.86,47.8"/></defs>
 <text font-family="'Liberation Sans',sans-serif" font-size="15.5" font-weight="bold" fill="#111"><textPath href="#arcNS" startOffset="0" textLength="117" lengthAdjust="spacingAndGlyphs">Nutrition Service</textPath></text>
 <path d="M42,70 A34,34 0 0 1 104,42 A34,34 0 0 1 100,80" fill="none" stroke="#222" stroke-width="1"/>
 <g stroke="#111" stroke-width="1.2" fill="none">
  <path d="M44,25 L68,58 M49,22 L69,57 M56,22 L70,56 M60,30 L71,57"/>
 </g>
 <g fill="#222">
  <ellipse cx="47" cy="30" rx="2.5" ry="6" transform="rotate(-35 47 30)"/>
  <ellipse cx="52" cy="27" rx="2.5" ry="6" transform="rotate(-30 52 27)"/>
  <ellipse cx="58" cy="28" rx="2.5" ry="6" transform="rotate(-20 58 28)"/>
  <ellipse cx="52" cy="40" rx="2.5" ry="6" transform="rotate(-35 52 40)"/>
 </g>
 <circle cx="84" cy="38" r="10.5" fill="#111"/>
 <path d="M84,28 L85,24 M86,26 C90,22 94,23 95,24 C92,27 89,27 86,26 Z" fill="#333" stroke="#111" stroke-width="0.8"/>
 <path d="M39,62 C45,55 55,53 63,56 C68,58 72,62 73,67 C70,72 63,76 54,75 C48,74 44,71 41,68 L34,74 L36,64 L30,58 Z" fill="#111"/>
 <circle cx="68" cy="65" r="1.3" fill="#fff"/>
 <g fill="#fff" stroke="#222" stroke-width="1">
  <path d="M77,60 L80,53 L89,53 L91,60 L91,83 L77,83 Z"/>
  <path d="M86,65 L99,65 L98,84 L87,84 Z"/>
 </g>
</svg>
<div class="t" style="left:583px;top:6.5px;font-family:'Liberation Serif',serif;font-style:italic;font-size:33px;line-height:1;color:#111">P</div>
<div class="t" style="left:602px;top:12.5px;font-family:'Liberation Serif',serif;font-style:italic;font-size:23.5px;line-height:1;color:#111;transform:scaleX(0.665);transform-origin:0 0">rovidence</div>
<div class="t" style="left:595px;top:37.2px;font-family:'Liberation Sans',sans-serif;font-weight:bold;font-size:6px;line-height:1;color:#222;letter-spacing:2.3px">HEALTH CARE</div>
<div class="abs" style="left:594px;top:45px;width:131px;height:2px;background:#111"></div>
<div class="t" style="left:595.5px;top:49.8px;font-family:'Liberation Serif',serif;font-weight:bold;font-size:15px;line-height:1;color:#111;letter-spacing:0.45px">St. Paul’s Hospital</div>
<svg class="abs" style="left:560px;top:18px" width="34" height="32" viewBox="0 0 34 32">
 <circle cx="18" cy="16" r="8.8" fill="#1a1a1a"/>
 <path d="M3.5,16 C2,25 9,30.5 21,28.5" stroke="#1a1a1a" stroke-width="2.4" fill="none" stroke-linecap="round"/>
 <g fill="#fff"><path d="M18,9.5 C15.8,12.5 15.8,16 18,19 C20.2,16 20.2,12.5 18,9.5 Z"/><path d="M12,13.5 C12,17 14.5,19.5 17,19.5 C15.5,17 14.5,15 12,13.5 Z"/><path d="M24,13.5 C24,17 21.5,19.5 19,19.5 C20.5,17 21.5,15 24,13.5 Z"/><path d="M11,19.5 L25,19.5 L24,21 L12,21 Z"/></g>
</svg>
<div class="t" style="left:676px;top:5px;font-family:'Liberation Sans',sans-serif;font-weight:bold;font-size:13.8px;line-height:1;color:#111;transform:scaleX(0.9);transform-origin:0 0">H</div>
<div class="t" style="left:680px;top:13.7px;font-family:'Liberation Sans',sans-serif;font-weight:bold;font-size:13.8px;line-height:1;color:#111;transform:scaleX(0.85);transform-origin:0 0">H</div>
<div class="t" style="left:685.5px;top:6.5px;font-family:'Liberation Sans',sans-serif;font-weight:bold;font-size:7.6px;line-height:1;color:#222;letter-spacing:0.7px">EALTHY</div>
<div class="t" style="left:688.5px;top:14.3px;font-family:'Liberation Sans',sans-serif;font-weight:bold;font-size:7.6px;line-height:1;color:#222;letter-spacing:0.6px">EART</div>
<svg class="abs" style="left:676px;top:4px" width="82" height="34" viewBox="676 4 82 34">
 <path d="M677,28.7 L720,28.7 L722,27 L725,29 L728,30 L729.8,8.5 L731,35 L733,28.7 L738,28.7 L742,25 L745,28.7 L755,28.7" fill="none" stroke="#333" stroke-width="1.1"/>
</svg>
</body></html>
